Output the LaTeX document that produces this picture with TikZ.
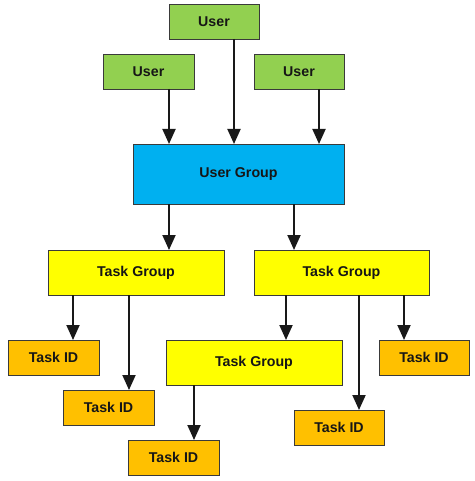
\documentclass[tikz,border=0pt]{standalone}
\usepackage{fontspec}
\setmainfont{Liberation Sans}
\usetikzlibrary{arrows.meta}
\definecolor{ugreen}{HTML}{92D050}
\definecolor{ublue}{HTML}{00B0F0}
\definecolor{tyellow}{HTML}{FFFF00}
\definecolor{torange}{HTML}{FFC000}
\definecolor{edge}{HTML}{3A3A3A}
\definecolor{txt}{HTML}{161616}
\begin{document}
\begin{tikzpicture}[x=1pt,y=-1pt,
  box/.style={draw=edge,line width=0.9pt},
  lbl/.style={draw=none,inner sep=0pt,font=\bfseries\fontsize{14.2}{16}\selectfont,text=txt},
  conn/.style={line width=1.9pt,draw=black!90,-{Triangle[length=15pt,width=13pt]}}]
\useasboundingbox (0,0) rectangle (474,481);
\path[box,fill=ugreen] (169,4) rectangle (259,39) node[midway,lbl] (u1) {User};
\path[box,fill=ugreen] (103,54) rectangle (194,89) node[midway,lbl] (u2) {User};
\path[box,fill=ugreen] (254,54) rectangle (344,89) node[midway,lbl] (u3) {User};
\path[box,fill=ublue] (133,144) rectangle (344,204) node[midway,lbl] (ug) {User Group};
\path[box,fill=tyellow] (48,250) rectangle (224,295) node[midway,lbl] (tg1) {Task Group};
\path[box,fill=tyellow] (254,250) rectangle (429,295) node[midway,lbl] (tg2) {Task Group};
\path[box,fill=tyellow] (166,340) rectangle (342,385) node[midway,lbl] (tg3) {Task Group};
\path[box,fill=torange] (8,340) rectangle (99,375) node[midway,lbl] (t1) {Task ID};
\path[box,fill=torange] (63,390) rectangle (154,425) node[midway,lbl] (t2) {Task ID};
\path[box,fill=torange] (128,440) rectangle (219,475) node[midway,lbl] (t3) {Task ID};
\path[box,fill=torange] (294,410) rectangle (384,445) node[midway,lbl] (t4) {Task ID};
\path[box,fill=torange] (379,340) rectangle (469,375) node[midway,lbl] (t5) {Task ID};
% connector anchor coordinates
\coordinate (u1b) at (234,39);   \coordinate (ugt2) at (234,144);
\coordinate (u2b) at (169,89);   \coordinate (ugt1) at (169,144);
\coordinate (u3b) at (319,89);   \coordinate (ugt3) at (319,144);
\coordinate (ugb1) at (169,204); \coordinate (tg1t) at (169,250);
\coordinate (ugb2) at (294,204); \coordinate (tg2t) at (294,250);
\coordinate (tg1b1) at (73,295); \coordinate (t1t) at (73,340);
\coordinate (tg1b2) at (129,295); \coordinate (t2t) at (129,390);
\coordinate (tg2b1) at (286,295); \coordinate (tg3t) at (286,340);
\coordinate (tg2b2) at (359,295); \coordinate (t4t) at (359,410);
\coordinate (tg2b3) at (404,295); \coordinate (t5t) at (404,340);
\coordinate (tg3b) at (194,385); \coordinate (t3t) at (194,440);
\draw[conn] (u1b) -- (ugt2);
\draw[conn] (u2b) -- (ugt1);
\draw[conn] (u3b) -- (ugt3);
\draw[conn] (ugb1) -- (tg1t);
\draw[conn] (ugb2) -- (tg2t);
\draw[conn] (tg1b1) -- (t1t);
\draw[conn] (tg1b2) -- (t2t);
\draw[conn] (tg2b1) -- (tg3t);
\draw[conn] (tg2b2) -- (t4t);
\draw[conn] (tg2b3) -- (t5t);
\draw[conn] (tg3b) -- (t3t);
\end{tikzpicture}
\end{document}
